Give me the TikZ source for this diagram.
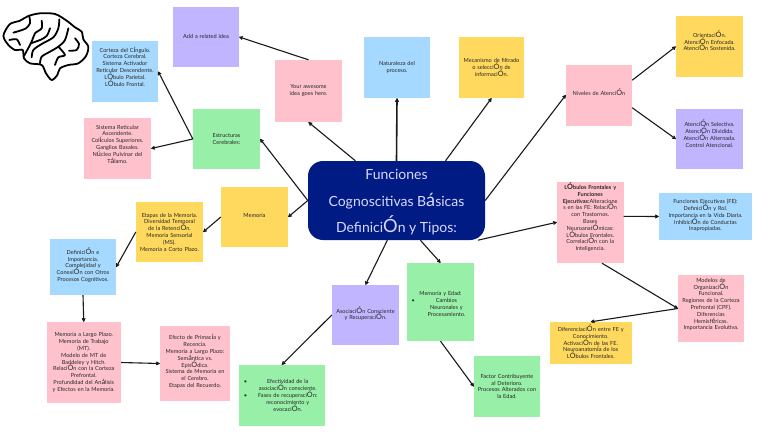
\documentclass[tikz,border=0pt]{standalone}
\usepackage{fontspec}
\setmainfont{Lato}
\usetikzlibrary{arrows.meta}
\definecolor{notepink}{HTML}{FFC2CC}
\definecolor{noteblue}{HTML}{A6D9FF}
\definecolor{notegreen}{HTML}{98EFA8}
\definecolor{noteyellow}{HTML}{FFD95E}
\definecolor{notepurple}{HTML}{C1B5FF}
\definecolor{mainblue}{HTML}{001B84}
\newcommand*{\acc}[1]{\smash{\scalebox{1.3}{#1}}}
\newcommand*{\bulletitem}[3]{\parbox[t]{#1pt}{\textbullet}\parbox[t]{#2pt}{\centering #3}}
\begin{document}
\begin{tikzpicture}[
        x=1pt,y=-1pt,>={Stealth[round,length=5pt,width=5pt]},
        note/.style={inner sep=0pt,align=center,text=black!85,font=\fontsize{5.6}{6.8}\selectfont},
        link/.style={->,line width=1.1pt,draw=black!90},
        main/.style={rounded corners=15pt,fill=mainblue,text=white!85!blue,inner sep=0pt,align=center,font=\fontsize{14}{26.6}\selectfont},
        fold/.style={line width=1.8pt,line cap=round,line join=round},
        ]
        \useasboundingbox (0,0) rectangle (768,431);
        \node[main,minimum width=177,minimum height=79] (central) at (396.5,200.5) {\mbox{}\\[-12.5pt]Funciones\\Cognoscitivas B\acc{á}sicas\\Definici\acc{Ó}n y Tipos:};

        \node[note,fill=notepurple,minimum width=66,minimum height=60,text width=62] (add) at (206,37) {Add a related idea\\[-4.8pt]\mbox{}};
        \node[note,fill=notepink,minimum width=67,minimum height=62,text width=60] (your) at (308.5,91) {Your awesome\\idea goes here.\\[-4.8pt]\mbox{}};
        \node[note,fill=noteblue,minimum width=66,minimum height=61,text width=60] (naturaleza) at (397,67.5) {Naturaleza del\\proceso.};
        \node[note,fill=noteyellow,minimum width=65,minimum height=61,text width=64] (mecanismo) at (491.5,67.5) {Mecanismo de filtrado\\o selecci\acc{Ó}n de\\informaci\acc{Ó}n.};
        \node[note,fill=noteblue,minimum width=66,minimum height=61,text width=65] (corteza) at (125,71.5) {Corteza del C\acc{í}ngulo.\\Corteza Cerebral.\\Sistema Activador\\Reticular Descendente.\\L\acc{Ó}bulo Parietal.\\L\acc{Ó}bulo Frontal.\\[2.2pt]\mbox{}};
        \node[note,fill=notegreen,minimum width=67,minimum height=60,text width=60] (estructuras) at (226.5,139) {Estructuras\\Cerebrales:};
        \node[note,fill=notepink,minimum width=67,minimum height=61,text width=62] (sistema) at (117.5,148.5) {Sistema Reticular\\Ascendente.\\Col\acc{í}culos Superiores.\\Ganglios Basales.\\N\acc{ú}cleo Pulvinar del\\T\acc{á}lamo.\\[2.2pt]\mbox{}};
        \node[note,fill=noteyellow,minimum width=67,minimum height=60,text width=60] (memoria) at (254.5,217) {Memoria\\[-4.2pt]\mbox{}};
        \node[note,fill=noteyellow,minimum width=67,minimum height=60,text width=65] (etapas) at (169.5,232) {Etapas de la Memoria.\\Diversidad Temporal\\de la Retenci\acc{Ó}n.\\Memoria Sensorial\\(MS).\\Memoria a Corto Plazo.};
        \node[note,fill=noteblue,minimum width=66,minimum height=56,text width=60] (definicion) at (83,267) {Definici\acc{Ó}n e\\Importancia.\\Complejidad y\\Conexi\acc{Ó}n con Otros\\Procesos Cognitivos.\\[-4.4pt]\mbox{}};
        \node[note,fill=notepink,minimum width=74.5,minimum height=81,text width=72] (largo) at (83.75,362.5) {Memoria a Largo Plazo.\\Memoria de Trabajo\\(MT).\\Modelo de MT de\\Baddeley y Hitch.\\Relaci\acc{Ó}n con la Corteza\\Prefrontal.\\Profundidad del An\acc{á}lisis\\y Efectos en la Memoria.};
        \node[note,fill=notepink,minimum width=70,minimum height=75,text width=68] (efecto) at (195,363.5) {Efecto de Primac\acc{í}a y\\Recencia.\\Memoria a Largo Plazo:\\Sem\acc{á}ntica vs.\\Epis\acc{Ó}dica.\\Sistema de Memoria en\\el Cerebro.\\Etapas del Recuerdo.\\[-3.2pt]\mbox{}};
        \node[note,fill=notepurple,minimum width=67,minimum height=60,text width=66] (asociacion) at (365.5,315) {Asociaci\acc{Ó}n Consciente\\y Recuperaci\acc{Ó}n.};
        \node[note,fill=notegreen,minimum width=86.5,minimum height=61,text width=76] (efectividad) at (281.75,395.5) {\bulletitem{12}{64}{Efectividad de la\\asociaci\acc{Ó}n consciente.}\\[1.8pt]\bulletitem{12}{64}{Fases de recuperaci\acc{Ó}n:\\reconocimiento y\\evocaci\acc{Ó}n.}};
        \node[note,fill=notegreen,minimum width=67,minimum height=78,text width=58] (edad) at (440.5,302) {Memoria y Edad:\\\bulletitem{12}{46}{Cambios\\Neuronales y\\Procesamiento.}\\[-5pt]\mbox{}};
        \node[note,fill=notegreen,minimum width=66,minimum height=61,text width=65] (factor) at (507,386.5) {Factor Contribuyente\\al Deterioro.\\Procesos Alterados con\\la Edad.};
        \node[note,fill=notepink,minimum width=66,minimum height=61,text width=60] (niveles) at (599,95) {Niveles de Atenci\acc{Ó}n\\[-4.2pt]\mbox{}};
        \node[note,fill=noteyellow,minimum width=67,minimum height=61,text width=60] (orientacion) at (709.5,46.5) {Orientaci\acc{Ó}n.\\Atenci\acc{Ó}n Enfocada.\\Atenci\acc{Ó}n Sostenida.\\[2.2pt]\mbox{}};
        \node[note,fill=notepurple,minimum width=67,minimum height=60,text width=62] (selectiva) at (709.5,139) {Atenci\acc{Ó}n Selectiva.\\Atenci\acc{Ó}n Dividida.\\Atenci\acc{Ó}n Alternada.\\Control Atencional.\\[1.2pt]\mbox{}};
        \node[note,fill=notepink,minimum width=66.5,minimum height=81.5,text width=65] (lobulos) at (590.25,222.25) {\textbf{L\acc{Ó}bulos Frontales y}\\\textbf{Funciones}\\\textbf{Ejecutivas:}Alteracione\\s en las FE: Relaci\acc{Ó}n\\con Trastornos.\\Bases\\Neuroanat\acc{Ó}micas:\\L\acc{Ó}bulos Frontales.\\Correlaci\acc{Ó}n con la\\Inteligencia.\\[1.6pt]\mbox{}};
        \node[note,fill=noteblue,minimum width=93,minimum height=47,text width=88] (ejecutivas) at (705.5,216.5) {Funciones Ejecutivas (FE):\\Definici\acc{Ó}n y Rol.\\Importancia en la Vida Diaria.\\Inhibici\acc{Ó}n de Conductas\\Inapropiadas.\\[-4.2pt]\mbox{}};
        \node[note,fill=notepink,minimum width=66,minimum height=67,text width=65] (modelos) at (711,308.5) {Modelos de\\Organizaci\acc{Ó}n\\Funcional.\\Regiones de la Corteza\\Prefrontal (CPF).\\Diferencias\\Hemisf\acc{é}ricas.\\Importancia Evolutiva.\\[2.2pt]\mbox{}};
        \node[note,fill=noteyellow,minimum width=81.5,minimum height=42,text width=78] (diferenciacion) at (590.75,343) {Diferenciaci\acc{Ó}n entre FE y\\Conocimiento.\\Activaci\acc{Ó}n de las FE.\\Neuroanatom\acc{í}a de los\\L\acc{Ó}bulos Frontales.};

        \draw[link] (your.north) -- (add.east);
        \draw[link] (central.136) -- (your.south);
        \draw[link,line width=1.6pt] (central.north) -- (naturaleza.south);
        \draw[link] (central.39) -- (mecanismo.south);
        \draw[link] (central.east) -- (niveles.west);
        \draw[link] (niveles.24) -- (orientacion.west);
        \draw[link] (niveles.-21) -- (selectiva.west);
        \draw[link] (central.-26) -- (lobulos.west);
        \draw[link] (lobulos.10) -- (ejecutivas.west);
        \draw[link] (lobulos.-74) -- (modelos.west);
        \draw[link] (modelos.west) -- (diferenciacion.north);
        \draw[link] (central.-59) -- (edad.north);
        \draw[link] (edad.south) -- (factor.west);
        \draw[link] (central.-103) -- (asociacion.north);
        \draw[link] (asociacion.west) -- (efectividad.north);
        \draw[link] (central.west) -- (memoria.east);
        \draw[link] (central.west) -- (estructuras.east);
        \draw[link] (estructuras.west) -- (corteza.east);
        \draw[link] (estructuras.west) -- (sistema.east);
        \draw[link] (memoria.west) -- (etapas.east);
        \draw[link] (etapas.west) -- (definicion.east);
        \draw[link] (definicion.south) -- (largo.north);
        \draw[link] (largo.east) -- (efecto.west);

        % brain, traced at three times its size
        \begin{scope}[scale=1/3]
          \draw[fold] plot[smooth cycle,tension=0.5] coordinates {(12,100) (30,72) (60,62) (85,48) (120,40) (165,42) (200,62) (225,82) (245,95) (250,118) (265,140) (258,168) (235,190) (205,195) (180,205) (172,225) (155,240) (138,220) (125,195) (90,190) (72,175) (68,150) (45,150) (25,135) (12,115)};
          \draw[fold] plot[smooth] coordinates {(40,98) (60,92) (78,85) (90,70) (88,50)};
          \draw[fold] plot[smooth] coordinates {(125,62) (125,85) (105,100) (95,125) (72,168)};
          \draw[fold] plot[smooth] coordinates {(28,120) (50,118) (60,135)};
          \draw[fold] plot[smooth] coordinates {(92,130) (120,120) (140,108) (150,85)};
          \draw[fold] plot[smooth] coordinates {(178,58) (175,85) (160,112) (125,132) (100,150) (95,172)};
          \draw[fold] plot[smooth] coordinates {(205,85) (195,120) (175,140) (150,155) (125,170) (120,190)};
          \draw[fold] plot[smooth] coordinates {(175,140) (195,165) (175,172) (165,195)};
          \draw[fold] plot[smooth] coordinates {(225,115) (237,132) (230,150) (207,152)};
        \end{scope}
      \end{tikzpicture}
\end{document}
